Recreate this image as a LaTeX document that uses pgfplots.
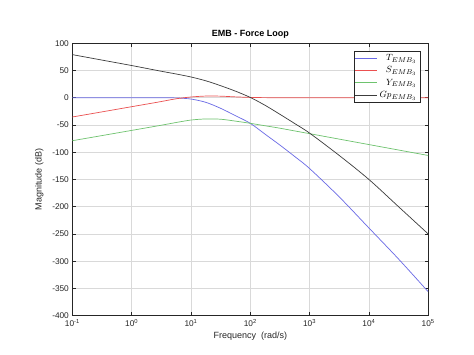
\documentclass[border=0pt]{standalone}
\usepackage{fontspec}
\setmainfont{Liberation Sans}
\usepackage{pgfplots}
\pgfplotsset{compat=1.18}
\definecolor{tcol}{RGB}{105,105,230}
\definecolor{scol}{RGB}{235,80,80}
\definecolor{ycol}{RGB}{110,195,110}
\definecolor{gcol}{RGB}{60,60,60}
\definecolor{axcol}{RGB}{38,38,38}
\begin{document}
\begin{tikzpicture}[x=1pt,y=1pt]
\fill[white] (0,0) rectangle (474,355);
\path[use as bounding box] (0,0) rectangle (474,355);
\begin{axis}[
  at={(72.4pt,39.3pt)}, anchor=south west, scale only axis,
  width=355.8pt, height=272.5pt,
  xmode=log, log basis x=10, xmin=0.1, xmax=1e5,
  ymin=-400, ymax=100, ytick={-400,-350,...,100},
  xtick={0.1,1,10,100,1000,10000,100000},
  xmajorgrids=true, xminorgrids=true, ymajorgrids=true,
  major grid style={black!15, line width=0.45pt}, minor grid style={black!10, line width=0.45pt},
  tick align=inside, major tick length=3.5pt, minor tick length=2pt,
  axis line style={axcol, line width=0.5pt}, tick style={axcol, line width=0.4pt},
  ticklabel style={font=\fontsize{8.3}{9}\selectfont, text=axcol},
  /pgf/number format/assume math mode=true,
  xticklabel={10\textsuperscript{\pgfmathprintnumber[assume math mode=true]{\tick}}},
  title={\textbf{EMB - Force Loop}},
  title style={font=\fontsize{9}{10}\selectfont, at={(0.5,1)}, anchor=south, yshift=-5pt},
  xlabel={Frequency \ (rad/s)},
  ylabel={Magnitude (dB)},
  label style={font=\fontsize{9}{10}\selectfont, text=axcol},
  xlabel style={yshift=1pt},
  ylabel style={yshift=2pt},
  legend style={at={(0.977,0.971)}, anchor=north east, draw=axcol, fill=white,
    font=\fontsize{9.5}{10.5}\selectfont, inner sep=1.2pt, row sep=0.6pt, line width=0.4pt},
  legend cell align=right,
  legend image code/.code={\draw[#1, line width=0.7pt] plot coordinates {(0pt,0pt) (11pt,0pt) (22pt,0pt)};},
  every axis plot/.append style={line width=0.7pt},
]
\addplot[tcol, smooth] coordinates {
(0.1,0) (0.3162,0) (1,0) (1.778,0) (3.162,0) (5.623,-0.4) (10,-2.5) (17.78,-8.5)
(31.62,-19.5) (56.23,-33) (100,-47) (177.8,-67) (316.2,-87) (562.3,-108)
(1000,-130) (3162,-182) (10000,-239) (31623,-296) (100000,-356)};
\addlegendentry{$T_{EMB_3}$}
\addplot[scol, smooth] coordinates {
(0.1,-35.4) (0.3162,-26) (1,-16.5) (1.778,-11.8) (3.162,-7) (5.623,-2) (10,1.3)
(17.78,3) (31.62,2.8) (56.23,1.5) (100,0.5) (177.8,0.1) (316.2,0) (1000,0)
(10000,0) (100000,0)};
\addlegendentry{$S_{EMB_3}$}
\addplot[ycol, smooth] coordinates {
(0.1,-78.9) (0.3162,-69.5) (1,-60) (3.162,-50.5) (5.623,-45.5) (10,-41)
(17.78,-39) (31.62,-39.5) (56.23,-43) (100,-47) (177.8,-51.5) (316.2,-56)
(562.3,-61) (1000,-66) (3162,-76) (10000,-86) (31623,-96) (100000,-106)};
\addlegendentry{$Y_{EMB_3}$}
\addplot[gcol, smooth] coordinates {
(0.1,79) (0.3162,69) (1,59) (3.162,48.5) (5.623,43.5) (10,38) (17.78,31)
(31.62,22) (56.23,12) (100,0.5) (177.8,-14) (316.2,-30.5) (562.3,-47.5)
(1000,-65) (3162,-106) (10000,-150) (31623,-200) (100000,-250)};
\addlegendentry{$Gp_{EMB_3}$}
\end{axis}
\end{tikzpicture}
\end{document}
